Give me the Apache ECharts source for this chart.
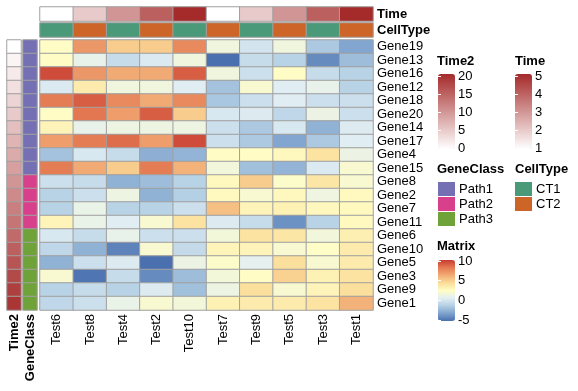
<!DOCTYPE html>
<html><head><meta charset="utf-8">
<script src="https://cdn.jsdelivr.net/npm/echarts@6/dist/echarts.min.js"></script>
<style>html,body{margin:0;padding:0;background:#fff}#c{width:578px;height:391px}</style>
</head><body><div id="c"></div><script>
// ---- data ----
const tests = ['Test6','Test8','Test4','Test2','Test10','Test7','Test9','Test5','Test3','Test1'];
const genes = ['Gene19','Gene13','Gene16','Gene12','Gene18','Gene20','Gene14','Gene17','Gene4','Gene15',
               'Gene8','Gene2','Gene7','Gene11','Gene6','Gene10','Gene5','Gene3','Gene9','Gene1'];
const matrix = [
  [2.5, 7, 5, 5, 7.5, 1.5, 0, 1.5, -1.5, -3],
  [2.5, 1, -0.5, 0.3, 1.5, -5, -0.5, -1, -4, -2],
  [9.5, 7, 6.3, 6.3, 9, 1.5, -0.3, 2.5, -0.5, -1],
  [0.3, 3.5, 1.5, 1.5, 0.5, -1.8, 2, 0.5, 1, -1],
  [8, 9, 7.5, 6.3, 7.5, -1.6, -0.3, 0.5, -0.3, -0.3],
  [2.5, 8.2, 6.8, 9, 5, 0.2, 0.4, -0.8, 1.2, -0.3],
  [3, 1, 1.3, 1.3, 1.3, -0.3, -1.5, 0.2, -2.5, 0.4],
  [6.8, 8, 8.5, 6.8, 9.5, -0.3, -1.5, -3, -1.5, 0.5],
  [-1.8, 0.2, -0.5, -2.6, -2.4, 2.5, 2.5, 2.8, 4, 1.2],
  [8, 6.3, 5, 8, 6, 1.6, -1.9, -2.4, 0.3, 2],
  [-0.3, -0.5, -2.5, -2, -1, 2.8, 5, 2.3, 3.8, 2],
  [-1, -0.3, 1.3, -2.5, -1.2, 2.7, 2, 2.8, 1.4, 2.7],
  [-1, 1.1, -1, -1, -0.3, 5.5, 3, 3.2, 2.8, 2.7],
  [3, 1.1, 0.5, 2, 4, 0.4, -0.5, -3.8, -1, 2.7],
  [0.2, -0.5, 1, -0.3, -0.3, 1.7, 4, 3.8, 1.6, 3.3],
  [-0.8, -2.5, -4.3, 2, -0.6, 3, 3, 2, 2.4, 3.5],
  [-2.5, -0.3, 0.4, -5, 1.2, 2.3, 0.8, 4.2, 2, 3.5],
  [2, -4.8, -0.5, -4, -2, 1.7, 2.5, 4.8, 3.2, 4],
  [-1, -0.5, -1, 0.4, -1.9, 1.3, 4.2, 2, 3, 4.2],
  [-0.8, -0.3, 1.1, 2, 1.7, 3.2, 3.5, 3.5, 4, 6]
];
const timeVals = [1, 2, 3, 4, 5, 1, 2, 3, 4, 5];
const cellType = ['CT1','CT2','CT1','CT2','CT1','CT2','CT1','CT2','CT1','CT2'];
const time2Vals = [0, 1, 2, 3, 4, 5, 6, 7, 8, 9, 10, 11, 12, 13, 14, 15, 16, 17, 18, 19];
const geneClass = ['Path1','Path1','Path1','Path1','Path1','Path1','Path1','Path1','Path1','Path1',
                   'Path2','Path2','Path2','Path2','Path3','Path3','Path3','Path3','Path3','Path3'];
const geneClassLevels = ['Path1','Path2','Path3'];
const cellTypeLevels = ['CT1','CT2'];
const matrixTickRange = [-5, 10, 5];
const timeTickRange = [1, 5, 1];
const time2TickRange = [0, 20, 5];

// ---- styles ----
const FONT = 'Liberation Sans, Arial, Helvetica, sans-serif';
const geneClassColors = ['#7570b3', '#d8408c', '#70a23a'];
const cellTypeColors = ['#4a9a7a', '#cd6529'];
const matrixColors = ['#4a70b0','#7fa3cd','#b3cfe4','#e3eff3','#fffdc5','#fbdc98','#f2ab75','#e47a52','#c83b32'];
const timeColors = ['#ffffff', '#a52a2a'];
const BORDER = '#a0a0a0';

const chart = echarts.init(document.getElementById('c'), null, {renderer: 'canvas'});

const hiddenCat = (data, inverse) => ({type: 'category', data, show: false, inverse: !!inverse});
const cellStyle = {borderColor: BORDER, borderWidth: 1};

function legendAxes(gridIndex, range) {
  const base = {
    type: 'value', gridIndex, min: range[0], max: range[1], interval: range[2], z: 10,
    axisLine: {show: false}, splitLine: {show: false},
    axisTick: {show: true, inside: true, length: 3, lineStyle: {color: '#fff', width: 1}}
  };
  return [
    Object.assign({}, base, {position: 'right',
      axisLabel: {show: true, margin: 3, fontSize: 13, color: '#000', fontFamily: FONT, showMinLabel: true, showMaxLabel: true}}),
    Object.assign({}, base, {position: 'left', axisLabel: {show: false}})
  ];
}

const titleStyle = {fontSize: 13, fontWeight: 'bold', color: '#000', fontFamily: FONT};
const pieceLegend = (seriesIndex, levels, colors, left) => ({
  type: 'piecewise', seriesIndex,
  pieces: levels.map((l, i) => ({value: i, label: l, color: colors[i]})),
  inverse: true,
  left, top: 182, itemWidth: 17, itemHeight: 14, itemGap: 1, itemSymbol: 'rect',
  orient: 'vertical', align: 'left', textGap: 4, padding: 0, selectedMode: false, hoverLink: false,
  textStyle: {fontSize: 13, color: '#000', fontFamily: FONT}
});

const option = {
  animation: false,
  textStyle: {fontFamily: FONT},
  title: [
    {text: 'Time2', left: 437, top: 55, padding: 0, textStyle: titleStyle},
    {text: 'Time', left: 515, top: 55, padding: 0, textStyle: titleStyle},
    {text: 'GeneClass', left: 437, top: 163, padding: 0, textStyle: titleStyle},
    {text: 'CellType', left: 515, top: 163, padding: 0, textStyle: titleStyle},
    {text: 'Matrix', left: 437, top: 240, padding: 0, textStyle: titleStyle}
  ],
  grid: [
    {left: 40, top: 40, width: 333, height: 270},
    {left: 40, top: 7, width: 333, height: 14},
    {left: 40, top: 23, width: 333, height: 14},
    {left: 7, top: 40, width: 14, height: 270},
    {left: 23, top: 40, width: 14, height: 270},
    {left: 438, top: 76, width: 17, height: 72},
    {left: 515, top: 76, width: 17, height: 72},
    {left: 438, top: 261, width: 17, height: 59}
  ],
  xAxis: [
    {type: 'category', gridIndex: 0, data: tests, position: 'bottom',
     axisLine: {show: false}, axisTick: {show: false}, splitLine: {show: false},
     axisLabel: {rotate: 90, margin: 4, fontSize: 13, color: '#000', fontFamily: FONT, interval: 0}},
    Object.assign(hiddenCat(tests), {gridIndex: 1}),
    Object.assign(hiddenCat(tests), {gridIndex: 2}),
    {type: 'category', gridIndex: 3, data: ['Time2'], axisLine: {show: false}, axisTick: {show: false},
     axisLabel: {rotate: 90, margin: 4, fontSize: 13, fontWeight: 'bold', color: '#000', fontFamily: FONT}},
    {type: 'category', gridIndex: 4, data: ['GeneClass'], axisLine: {show: false}, axisTick: {show: false},
     axisLabel: {rotate: 90, margin: 4, fontSize: 13, fontWeight: 'bold', color: '#000', fontFamily: FONT}},
    {type: 'value', gridIndex: 5, show: false, min: 0, max: 1},
    {type: 'value', gridIndex: 6, show: false, min: 0, max: 1},
    {type: 'value', gridIndex: 7, show: false, min: 0, max: 1}
  ],
  yAxis: [
    {type: 'category', gridIndex: 0, data: genes, inverse: true, position: 'right',
     axisLine: {show: false}, axisTick: {show: false}, splitLine: {show: false},
     axisLabel: {margin: 4, fontSize: 13, color: '#000', fontFamily: FONT, interval: 0}},
    {type: 'category', gridIndex: 1, data: ['Time'], position: 'right', axisLine: {show: false}, axisTick: {show: false},
     axisLabel: {margin: 4, fontSize: 13, fontWeight: 'bold', color: '#000', fontFamily: FONT}},
    {type: 'category', gridIndex: 2, data: ['CellType'], position: 'right', axisLine: {show: false}, axisTick: {show: false},
     axisLabel: {margin: 4, fontSize: 13, fontWeight: 'bold', color: '#000', fontFamily: FONT}},
    Object.assign(hiddenCat(genes, true), {gridIndex: 3}),
    Object.assign(hiddenCat(genes, true), {gridIndex: 4}),
    ...legendAxes(5, time2TickRange),
    ...legendAxes(6, timeTickRange),
    ...legendAxes(7, matrixTickRange)
  ],
  visualMap: [
    {type: 'continuous', seriesIndex: 0, min: matrixTickRange[0], max: matrixTickRange[1],
     inRange: {color: matrixColors}, left: 438, top: 260, itemWidth: 17, itemHeight: 61,
     padding: 0, calculable: false, hoverLink: false, orient: 'vertical'},
    {type: 'continuous', seriesIndex: 1, min: timeTickRange[0], max: timeTickRange[1],
     inRange: {color: timeColors}, left: 515, top: 74, itemWidth: 17, itemHeight: 75,
     padding: 0, calculable: false, hoverLink: false, orient: 'vertical'},
    pieceLegend(2, cellTypeLevels, cellTypeColors, 515),
    {type: 'continuous', seriesIndex: 3, min: time2TickRange[0], max: time2TickRange[1],
     inRange: {color: timeColors}, left: 438, top: 74, itemWidth: 17, itemHeight: 75,
     padding: 0, calculable: false, hoverLink: false, orient: 'vertical'},
    pieceLegend(4, geneClassLevels, geneClassColors, 438)
  ],
  series: [
    {type: 'heatmap', xAxisIndex: 0, yAxisIndex: 0, itemStyle: cellStyle, emphasis: {disabled: true},
     data: matrix.flatMap((row, r) => row.map((v, c) => [c, r, v]))},
    {type: 'heatmap', xAxisIndex: 1, yAxisIndex: 1, itemStyle: cellStyle, emphasis: {disabled: true},
     data: timeVals.map((v, i) => [i, 0, v])},
    {type: 'heatmap', xAxisIndex: 2, yAxisIndex: 2, itemStyle: cellStyle, emphasis: {disabled: true},
     data: cellType.map((v, i) => [i, 0, cellTypeLevels.indexOf(v)])},
    {type: 'heatmap', xAxisIndex: 3, yAxisIndex: 3, itemStyle: cellStyle, emphasis: {disabled: true},
     data: time2Vals.map((v, r) => [0, r, v])},
    {type: 'heatmap', xAxisIndex: 4, yAxisIndex: 4, itemStyle: cellStyle, emphasis: {disabled: true},
     data: geneClass.map((v, r) => [0, r, geneClassLevels.indexOf(v)])}
  ]
};
chart.setOption(option);
</script></body></html>
